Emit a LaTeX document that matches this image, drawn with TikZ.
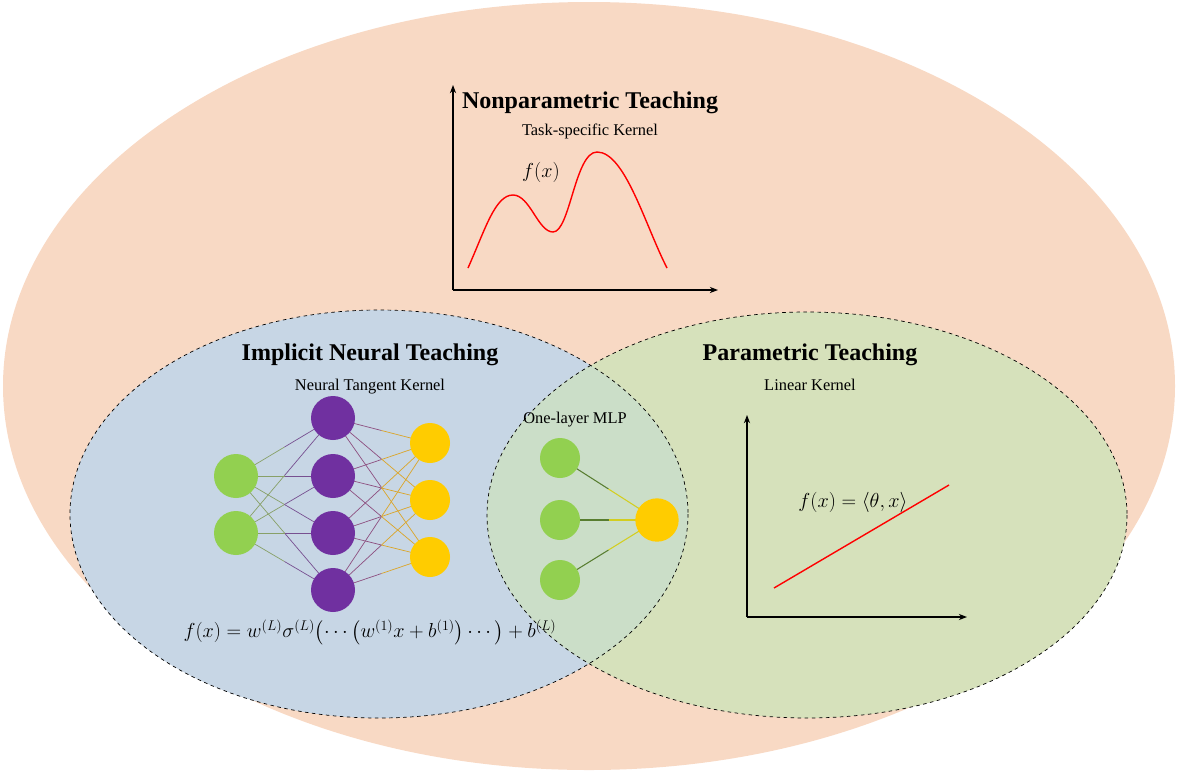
\documentclass[tikz,border=0pt]{standalone}
\usepackage{fontspec}
\setmainfont{Liberation Serif}
\usepackage{amsmath}
\usetikzlibrary{arrows.meta,calc}
\definecolor{outerc}{RGB}{248,217,196}
\definecolor{bluec}{RGB}{199,214,229}
\definecolor{greenc}{RGB}{214,225,187}
\definecolor{overc}{RGB}{203,222,200}
\definecolor{ngreen}{RGB}{146,208,80}
\definecolor{npurple}{RGB}{112,48,160}
\definecolor{nyellow}{RGB}{255,204,0}
\begin{document}
\begin{tikzpicture}[x=0.03cm,y=-0.03cm,
  ttl/.style={font=\bfseries\fontsize{20.5}{24}\selectfont},
  sub/.style={font=\fontsize{14}{17}\selectfont},
  gn/.style={circle,fill=ngreen,minimum size=1.32cm,inner sep=0},
  pn/.style={circle,fill=npurple,minimum size=1.32cm,inner sep=0},
  yn/.style={circle,fill=nyellow,minimum size=1.2cm,inner sep=0},
  ax/.style={-{Stealth[length=7pt]},line width=1pt},
  edge/.style={line width=0.6pt}]
\useasboundingbox (0,0) rectangle (1179,773);
\fill[outerc] (589,386) ellipse [x radius=586, y radius=384];
\fill[bluec] (379,514) ellipse [x radius=309, y radius=204];
\fill[greenc] (807,515) ellipse [x radius=320, y radius=203];
\begin{scope}
\clip (379,514) ellipse [x radius=309, y radius=204];
\fill[overc] (807,515) ellipse [x radius=320, y radius=203];
\end{scope}
\draw[dashed,line width=0.6pt] (379,514) ellipse [x radius=309, y radius=204];
\draw[dashed,line width=0.6pt] (807,515) ellipse [x radius=320, y radius=203];
% top
\node[ttl] (t1) at (590,103) {Nonparametric Teaching};
\node[sub] (s1) at (590,131) {Task-specific Kernel};
\coordinate (o1) at (453,290);
\draw[ax] (o1) -- (453,85);
\draw[ax] (o1) -- (718,290);
\draw[red,line width=1.2pt] (468,268) .. controls (485,230) and (495,195) .. (513,195)
  .. controls (530,195) and (538,232) .. (553,232)
  .. controls (570,232) and (575,152) .. (597,152)
  .. controls (625,152) and (645,225) .. (667,268);
\node[font=\fontsize{16}{19}\selectfont] (fx) at (541,172) {$f(x)$};
% blue
\node[ttl] (t2) at (370,355) {Implicit Neural Teaching};
\node[sub] (s2) at (370,387) {Neural Tangent Kernel};
\foreach \i/\y in {1/476,2/533} \coordinate (a\i) at (236,\y);
\foreach \i/\y in {1/418,2/476,3/533,4/590} \coordinate (b\i) at (333,\y);
\foreach \i/\y in {1/443,2/500,3/557} \coordinate (c\i) at (430,\y);
\foreach \i in {1,2} \foreach \j in {1,...,4} {
  \draw[edge,ngreen!70!npurple] (a\i) -- ($(a\i)!0.5!(b\j)$);
  \draw[edge,npurple!80!ngreen] ($(a\i)!0.5!(b\j)$) -- (b\j);}
\foreach \i in {1,...,4} \foreach \j in {1,2,3} {
  \draw[edge,npurple!80!nyellow] (b\i) -- ($(b\i)!0.5!(c\j)$);
  \draw[edge,nyellow!75!npurple] ($(b\i)!0.5!(c\j)$) -- (c\j);}
\foreach \i in {1,2} \node[gn] (A\i) at (a\i) {};
\foreach \i in {1,...,4} \node[pn] (B\i) at (b\i) {};
\foreach \i in {1,2,3} \node[yn] (C\i) at (c\i) {};
\node[font=\fontsize{17.5}{21}\selectfont] (f2) at (370,632)
  {$f(x)=w^{(L)}\sigma^{(L)}\bigl(\cdots\bigl(w^{(1)}x+b^{(1)}\bigr)\cdots\bigr)+b^{(L)}$};
% MLP
\node[sub] (m) at (575,420) {One-layer MLP};
\foreach \i/\y in {1/458,2/520,3/580} \coordinate (d\i) at (560,\y);
\coordinate (e) at (657,520);
\foreach \i in {1,2,3} {
  \draw[edge,line width=0.9pt,ngreen!60!black] (d\i) -- ($(d\i)!0.5!(e)$);
  \draw[edge,line width=0.9pt,nyellow!60!ngreen] ($(d\i)!0.5!(e)$) -- (e);}
\foreach \i in {1,2,3} \node[gn,minimum size=1.2cm] (D\i) at (d\i) {};
\node[yn,minimum size=1.3cm] (E) at (e) {};
% green
\node[ttl] (t3) at (810,355) {Parametric Teaching};
\node[sub] (s3) at (810,385) {Linear Kernel};
\coordinate (o3) at (747,617);
\draw[ax] (o3) -- (747,415);
\draw[ax] (o3) -- (967,617);
\coordinate (l1) at (774,588); \coordinate (l2) at (949,485);
\draw[red,line width=1.2pt] (l1) -- (l2);
\node[font=\fontsize{16}{19}\selectfont] (f3) at (853,502) {$f(x)=\langle\theta,x\rangle$};
\end{tikzpicture}
\end{document}
